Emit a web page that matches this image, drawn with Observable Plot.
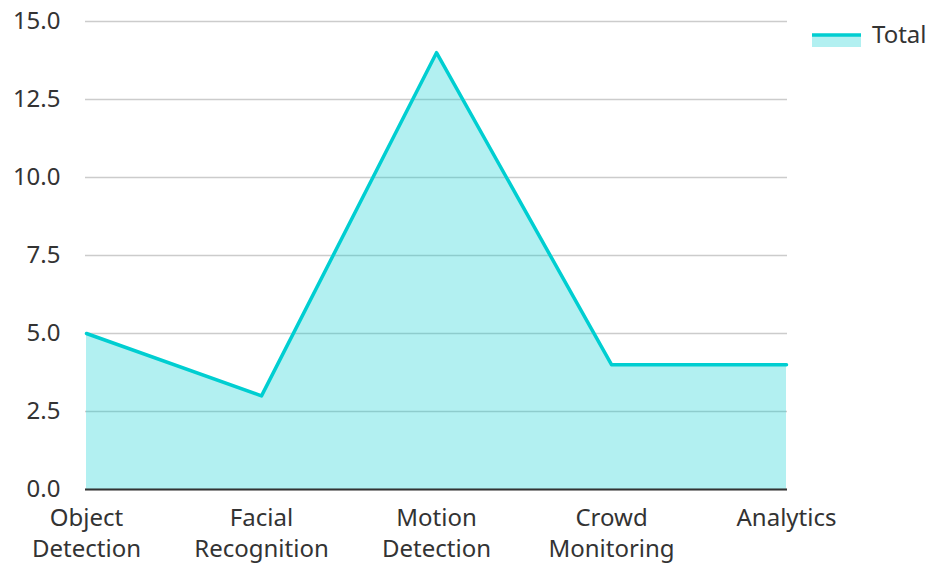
<!DOCTYPE html>
<html>
<head>
<meta charset="utf-8">
<script src="https://cdn.jsdelivr.net/npm/d3@7"></script>
<script src="https://cdn.jsdelivr.net/npm/@observablehq/plot@0.6"></script>
<style>
  html, body { margin: 0; padding: 0; background: #fff; }
  #wrap { position: relative; width: 928px; height: 563px; font-family: "Noto Sans", "Open Sans", sans-serif; }
  #legend { position: absolute; left: 812px; top: 17px; display: flex; align-items: center; font-size: 24px; color: #333; }
  #legend svg { display: block; margin-right: 11px; }
</style>
</head>
<body>
<div id="wrap"><div id="legend"><svg width="49" height="30" viewBox="0 0 49 30"><rect x="0" y="16" width="49" height="12" fill="#00CED1" fill-opacity="0.3"></rect><line x1="0" x2="49" y1="16" y2="16" stroke="#00CED1" stroke-width="3.5"></line></svg><span>Total</span></div></div>
<script>
const categories = ["Object Detection", "Facial Recognition", "Motion Detection", "Crowd Monitoring", "Analytics"];
const totals = [5, 3, 14, 4, 4];
const yTicks = [0, 2.5, 5, 7.5, 10, 12.5, 15];
const seriesName = "Total";

const data = categories.map((c, i) => ({category: c, value: totals[i], series: seriesName}));
const color = "#00CED1";

const chart = Plot.plot({
  width: 928,
  height: 563,
  marginLeft: 85,
  marginRight: 141,
  marginTop: 21,
  marginBottom: 74,
  style: {fontFamily: "'Noto Sans', 'Open Sans', sans-serif", fontSize: "24px", color: "#333", background: "#fff"},
  x: {type: "point", domain: categories, padding: 0},
  y: {domain: [0, 15]},
  marks: [
    Plot.gridY(yTicks, {stroke: "#ccc", strokeOpacity: 1, strokeWidth: 1.3}),
    Plot.areaY(data, {x: "category", y: "value", fill: color, fillOpacity: 0.3}),
    Plot.ruleY([0], {stroke: "#333", strokeWidth: 2}),
    Plot.lineY(data, {x: "category", y: "value", stroke: color, strokeWidth: 3.5}),
    Plot.axisY({ticks: yTicks, tickSize: 0, tickPadding: 25, tickFormat: d3.format(".1f"), label: null, fontSize: 24, fill: "#333"}),
    Plot.axisX({tickSize: 0, tickPadding: 14, label: null, fontSize: 24, fill: "#333", lineHeight: 1.3,
      tickFormat: d => d.replace(" ", "\n")})
  ]
});
document.getElementById("wrap").prepend(chart);
</script>
</body>
</html>
